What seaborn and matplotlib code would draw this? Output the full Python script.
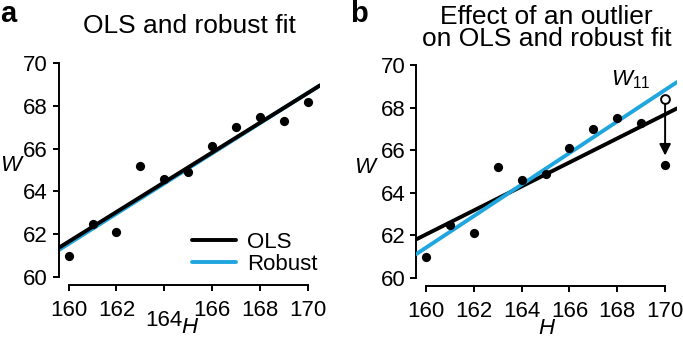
import numpy as np
import pandas as pd
import matplotlib
matplotlib.use('Agg')
import matplotlib.pyplot as plt
import seaborn as sns

# data
height = [160, 161, 162, 163, 164, 165, 166, 167, 168, 169, 170]
weight = [61.0, 62.5, 62.1, 65.2, 64.6, 64.9, 66.1, 67.0, 67.5, 67.3, 68.2]
outlier_weight = 65.3          # W11 moved down in panel b
outlier_original = 68.4
xticks = [160, 162, 164, 166, 168, 170]
yticks = [60, 62, 64, 66, 68, 70]
titles = ['OLS and robust fit', 'Effect of an outlier\non OLS and robust fit']
panel_letters = ['a', 'b']
blue = '#1fa6de'

sns.set_theme(style='ticks')
plt.rcParams['font.family'] = ['Liberation Sans', 'DejaVu Sans']
plt.rcParams['mathtext.fontset'] = 'custom'
plt.rcParams['mathtext.rm'] = 'Liberation Sans'
plt.rcParams['mathtext.it'] = 'Liberation Sans:italic'
plt.rcParams['axes.linewidth'] = 1.4
plt.rcParams['xtick.major.width'] = 1.4
plt.rcParams['ytick.major.width'] = 1.4
plt.rcParams['xtick.major.size'] = 4.5
plt.rcParams['ytick.major.size'] = 4
for key in ['xtick.color', 'ytick.color', 'axes.edgecolor', 'text.color', 'axes.labelcolor']:
    plt.rcParams[key] = 'black'


def ols_fit(x, y):
    return np.polyfit(x, y, 1)


def robust_fit(x, y, c=4.685, n_iter=50):
    # Tukey bisquare via iteratively reweighted least squares
    x = np.asarray(x, float)
    y = np.asarray(y, float)
    A = np.vstack([x, np.ones_like(x)]).T
    w = np.ones_like(y)
    for _ in range(n_iter):
        sw = np.sqrt(w)
        coef = np.linalg.lstsq(A * sw[:, None], y * sw, rcond=None)[0]
        r = y - A @ coef
        s = np.median(np.abs(r - np.median(r))) / 0.6745
        u = r / (c * s)
        w = np.where(np.abs(u) < 1, (1 - u ** 2) ** 2, 0.0)
    return coef


xlim = (159.6, 170.5)
xs = np.array(xlim)

fig = plt.figure(figsize=(6.83, 3.43), dpi=100)
axes = [fig.add_axes([0.0864, 0.1924, 0.3821, 0.6239]),
        fig.add_axes([0.6098, 0.1895, 0.3815, 0.6210])]

w_b = list(weight[:-1]) + [outlier_weight]
datasets = [weight, w_b]

for i, ax in enumerate(axes):
    y = datasets[i]
    df = pd.DataFrame({'H': height, 'W': y})
    b_ols = ols_fit(height, y)
    b_rob = robust_fit(height, y)
    fits = pd.DataFrame({'H': xs, 'OLS': np.polyval(b_ols, xs), 'Robust': np.polyval(b_rob, xs)})
    z_ols, z_rob = (3, 2) if i == 0 else (2, 3)
    sns.lineplot(data=fits, x='H', y='OLS', color='black', lw=2.8, ax=ax, zorder=z_ols, label='OLS')
    sns.lineplot(data=fits, x='H', y='Robust', color=blue, lw=2.8, ax=ax, zorder=z_rob, label='Robust')
    sns.scatterplot(data=df, x='H', y='W', color='black', s=44, linewidth=0, ax=ax, zorder=5, legend=False)

    ax.set_xlim(*xlim)
    ax.set_ylim(60, 70)
    ax.set_xticks(xticks)
    ax.set_yticks(yticks)
    ax.tick_params(labelsize=16, pad=4)
    ax.tick_params(axis='x', pad=6)
    sns.despine(ax=ax)
    ax.spines['bottom'].set_position(('outward', 6))
    ax.spines['bottom'].set_bounds(160, 170)
    ax.spines['left'].set_bounds(60, 70)

    ax.set_xlabel('H', fontsize=16, style='italic')
    ax.set_ylabel('W', fontsize=16, style='italic', rotation=0)
    ax.xaxis.label.set_va('center')
    ax.yaxis.label.set_va('center')
    ax.yaxis.label.set_ha('center')
    ax.xaxis.set_label_coords(0.5, -0.235)
    ax.yaxis.set_label_coords(-0.185 if i == 0 else -0.2, 0.52)

    if i == 0:
        ax.set_title(titles[i], fontsize=19, y=1.14, pad=0, va='baseline')
    else:
        ax.set_title(titles[i], fontsize=19, y=1.065, pad=0, va='bottom', linespacing=0.88)

    ax.text(-0.225 if i == 0 else -0.255, 1.19 if i == 0 else 1.2, panel_letters[i],
            transform=ax.transAxes, fontsize=21, fontweight='bold', ha='left', va='baseline')

    if i == 0:
        ax.legend(loc='lower right', frameon=False, fontsize=16, handlelength=2.0,
                  handletextpad=0.5, labelspacing=0.05, borderpad=0, borderaxespad=0.1)
        ax.xaxis.get_major_ticks()[2].set_pad(13)
    else:
        ax.get_legend().remove()

# panel b: original position of W11 and the arrow to its new value
axb = axes[1]
axb.scatter([height[-1]], [outlier_original], s=40, facecolor='white', edgecolor='black',
            linewidth=1.4, zorder=6)
axb.annotate('', xy=(height[-1], 65.75), xytext=(height[-1], 68.15),
             arrowprops=dict(arrowstyle='-|>', color='black', lw=1.4, mutation_scale=17,
                             shrinkA=0, shrinkB=0), zorder=4)
axb.text(169.37, 69.06, r'$W_{11}$', fontsize=16, ha='right', va='baseline')

fig.savefig('out.png', dpi=100)
